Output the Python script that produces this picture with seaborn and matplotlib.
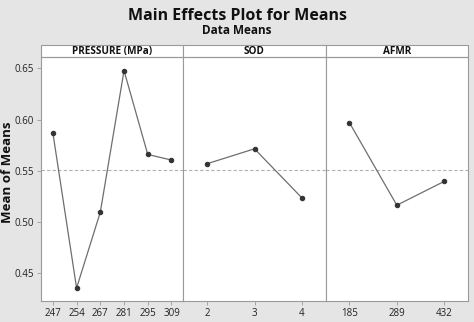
import matplotlib
matplotlib.use("Agg")
import matplotlib.pyplot as plt
from matplotlib.patches import Rectangle
import seaborn as sns
import pandas as pd
import numpy as np

factors = ["PRESSURE (MPa)", "SOD", "AFMR"]
pressure_levels = ["247", "254", "267", "281", "295", "309"]
pressure_means = [0.587, 0.4354, 0.5095, 0.6478, 0.5659, 0.5604]
sod_levels = ["2", "3", "4"]
sod_means = [0.5568, 0.5714, 0.5234]
afmr_levels = ["185", "289", "432"]
afmr_means = [0.597, 0.5163, 0.5396]
y_ticks = [0.45, 0.50, 0.55, 0.60, 0.65]

levels = [pressure_levels, sod_levels, afmr_levels]
means = [pressure_means, sod_means, afmr_means]
grand_mean = float(np.mean(pressure_means))

sns.set_theme(style="white")
plt.rcParams["font.family"] = ["Open Sans", "DejaVu Sans"]

bg = "#e5e5e5"
edge = "#9a9a9a"
fig = plt.figure(figsize=(4.74, 3.22), dpi=100, facecolor=bg)
left, right, top, bottom = 41/474, 468/474, 1-57/322, 1-301/322
axes = fig.subplots(1, 3, sharey=True, gridspec_kw=dict(wspace=0,
                    left=left, right=right, top=top, bottom=bottom))

strip_h = 12/244
for ax, fac, lv, mv in zip(axes, factors, levels, means):
    df = pd.DataFrame({"level": lv, "mean": mv})
    ax.set_facecolor("white")
    sns.lineplot(data=df, x="level", y="mean", ax=ax, color="#6e6e6e", lw=0.9,
                 marker="o", markersize=3.2, markerfacecolor="#333333",
                 markeredgecolor="#333333", sort=False)
    ax.axhline(grand_mean, color="#b0b0b0", lw=0.8, ls=(0, (3, 2)), zorder=0)
    ax.set_xlim(-0.5, len(lv) - 0.5)
    ax.set_ylim(0.4227, 0.6611)
    ax.set_xlabel("")
    ax.set_ylabel("")
    for s in ax.spines.values():
        s.set_color(edge)
        s.set_linewidth(0.8)
    ax.tick_params(axis="x", length=3, width=0.6, color=edge, labelsize=7, pad=2, labelcolor="#222222")
    ax.tick_params(axis="y", length=3, width=0.6, color=edge, labelsize=7, pad=2, labelcolor="#222222")
    rect = Rectangle((0, 1), 1, strip_h, transform=ax.transAxes, facecolor="white",
                     edgecolor=edge, lw=0.8, clip_on=False)
    ax.add_patch(rect)
    ax.text(0.5, 1 + strip_h/2, fac, transform=ax.transAxes, ha="center", va="center",
            fontsize=7.2, fontweight="bold", color="#111111")

axes[0].set_yticks(y_ticks)
axes[0].set_yticklabels([f"{v:.2f}" for v in y_ticks])
axes[0].tick_params(axis="y", left=True)
for ax in axes:
    ax.tick_params(axis="x", bottom=True)
for ax in axes[1:]:
    ax.tick_params(axis="y", left=False)

fig.text(0.5, 1-16/322, "Main Effects Plot for Means", ha="center", va="center",
         fontsize=11.5, fontweight="bold", color="#111111")
fig.text(0.5, 1-31/322, "Data Means", ha="center", va="center",
         fontsize=8.5, fontweight="bold", color="#111111")
fig.text(8/474, 1-172/322, "Mean of Means", ha="center", va="center", rotation=90,
         fontsize=9.5, fontweight="bold", color="#111111")

fig.savefig("out.png", dpi=100, facecolor=bg)
